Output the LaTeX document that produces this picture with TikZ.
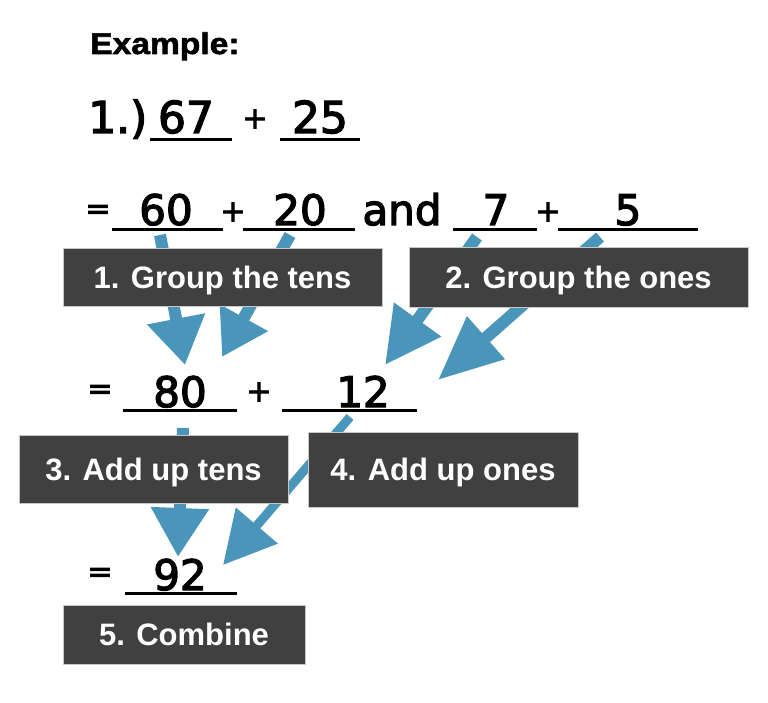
\documentclass[tikz,border=0pt]{standalone}
\usepackage{fontspec}
\usetikzlibrary{arrows.meta}
\newfontfamily\handfont{DejaVu Sans}[FakeBold=3]
\newfontfamily\labelfont{Liberation Sans}
\newfontfamily\headfont{Liberation Sans}[FakeStretch=1.12,FakeBold=2]
\definecolor{arrowblue}{RGB}{74,150,186}
\definecolor{boxgray}{RGB}{64,64,64}
\tikzset{
  hand/.style={font=\handfont\fontsize{42}{42}\selectfont,inner sep=0pt,anchor=base},
  sign/.style={font=\handfont\fontsize{30}{30}\selectfont,inner sep=0pt},
  blank/.style={line width=3pt},
  stepbox/.style={fill=boxgray,draw=black!22,line width=.8pt,text=white,
    font=\labelfont\bfseries\fontsize{31}{31}\selectfont,inner sep=0pt,
    text height=22pt,text depth=0pt},
  fat/.style={arrowblue,line width=12pt}
}
\begin{document}
\begin{tikzpicture}[x=1pt,y=-1pt]
\useasboundingbox (0,0) rectangle (768,703);
% heading and first line
\node[font=\headfont\bfseries\fontsize{30}{30}\selectfont,inner sep=0pt,anchor=base west] (title) at (90,54) {Example:};
\node[hand,anchor=base west,font=\handfont\fontsize{44}{44}\selectfont] (num) at (88,133) {1.)};
\node[hand,font=\handfont\fontsize{44}{44}\selectfont] (a67) at (186,133) {67};
\node[sign] (p1) at (255,119) {+};
\node[hand,font=\handfont\fontsize{44}{44}\selectfont] (a25) at (320,133) {25};
\draw[blank] (150,140) -- (232,140);
\draw[blank] (280,140) -- (360,140);
% second line
\node[sign] (eq2) at (98,212) {=};
\node[hand] (t60) at (166,225) {60};
\node[sign] (p2) at (233,212) {+};
\node[hand] (t20) at (300,225) {20};
\node[hand] (and) at (402,225) {and};
\node[hand] (o7) at (496,225) {7};
\node[sign] (p3) at (548,212) {+};
\node[hand] (o5) at (628,225) {5};
\draw[blank] (112,230) -- (223,230);
\draw[blank] (243,230) -- (355,230);
\draw[blank] (453,230) -- (537,230);
\draw[blank] (558,230) -- (698,230);
% third line
\node[sign] (eq3) at (100,392) {=};
\node[hand] (t80) at (180,407) {80};
\node[sign] (p4) at (259,392) {+};
\node[hand] (o12) at (363,407) {12};
\draw[blank] (123,410) -- (237,410);
\draw[blank] (282,410) -- (417,410);
% last line
\node[sign] (eq4) at (100,575) {=};
\node[hand] (s92) at (180,590) {92};
\draw[blank] (125,593) -- (237,593);
% arrow ends
\coordinate (from60) at (160,235);
\coordinate (from20) at (290,235);
\coordinate (from7) at (477,237);
\coordinate (from5) at (600,237);
\coordinate (to80a) at (185,365);
\coordinate (to80b) at (222,357);
\coordinate (to12a) at (385,365);
\coordinate (to12b) at (438,380);
\coordinate (from80) at (183,428);
\coordinate (from12) at (350,417);
\coordinate (to92a) at (178,557);
\coordinate (to92b) at (223,565);
\draw[fat,-{Triangle[width=56pt,length=47pt]}] (from60) -- (to80a);
\draw[fat,-{Triangle[width=52pt,length=45pt]}] (from20) -- (to80b);
\draw[fat,-{Triangle[width=55pt,length=56pt]}] (from7) -- (to12a);
\draw[fat,-{Triangle[width=54pt,length=64pt]}] (from5) -- (to12b);
\draw[fat,-{Triangle[width=55pt,length=49pt]}] (from80) -- (to92a);
\draw[fat,line width=9pt,-{Triangle[width=53pt,length=52pt]}] (from12) -- (to92b);
% step boxes
\node[stepbox,minimum width=319pt,minimum height=58pt] (group10) at (222.5,277) {1. Group the tens};
\node[stepbox,minimum width=339pt,minimum height=60pt] (group1) at (578.5,277) {2. Group the ones};
\node[stepbox,minimum width=269pt,minimum height=68pt] (add10) at (153.5,469) {3. Add up tens};
\node[stepbox,minimum width=270pt,minimum height=75pt] (add1) at (443,469.5) {4. Add up ones};
\node[stepbox,minimum width=242pt,minimum height=59pt] (combine) at (184,634.5) {5. Combine};
\end{tikzpicture}
\end{document}
